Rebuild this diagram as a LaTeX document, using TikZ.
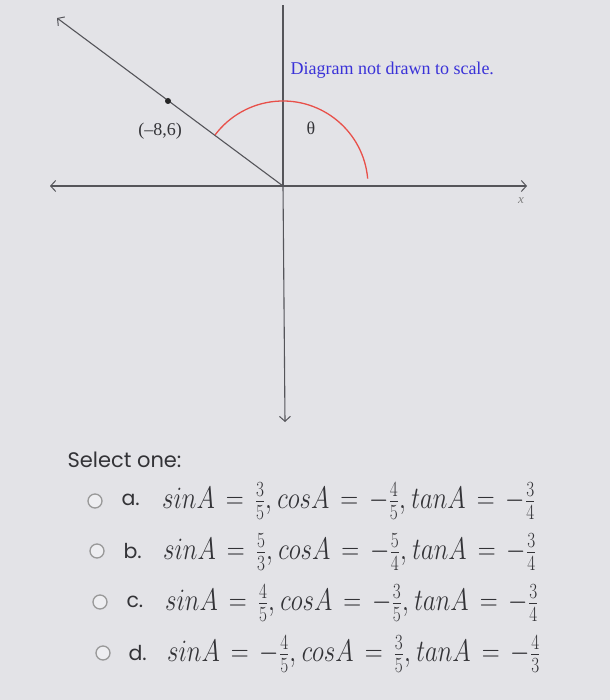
\documentclass[tikz,border=0pt]{standalone}
\usepackage{fontspec}
\setsansfont{Poppins}
\newfontfamily\labelserif{Liberation Serif}
\usetikzlibrary{arrows.meta}
\definecolor{bg}{HTML}{E3E3E7}
\definecolor{axisgray}{HTML}{55555A}
\definecolor{arcred}{HTML}{E8504A}
\definecolor{noteblue}{HTML}{3A32D8}
\definecolor{txt}{HTML}{333337}
\newcommand{\optformula}[1]{\scalebox{1}[1.25]{$\thickmuskip=8mu\thinmuskip=4mu #1$}}
\begin{document}
\begin{tikzpicture}[x=1pt,y=-1pt,
  axis/.style={draw=axisgray,line width=1.1pt},
  barb/.style={-{Straight Barb[length=5pt,width=11pt,line width=1pt]}},
  radio/.style={circle,draw=gray!80,line width=1.3pt,minimum size=14pt,inner sep=0pt,fill=white!40!bg},
  optletter/.style={anchor=west,font=\sffamily\fontsize{20.5}{24}\selectfont,text=txt},
  optmath/.style={anchor=west,font=\fontsize{25.5}{30}\selectfont,text=txt,inner sep=0pt}]
\useasboundingbox[fill=bg] (0,0) rectangle (610,700);
% axes
\coordinate (O) at (283,186);
\coordinate (L) at (50,186);
\coordinate (R) at (527,186);
\coordinate (T) at (283,5);
\coordinate (B) at (285,422);
\coordinate (P) at (57,18);
\draw[axis,barb] (O) -- (L);
\draw[axis,barb] (O) -- (R);
\draw[axis] (O) -- (T);
\draw[axis,barb] (O) -- (B);
\draw[axis,barb] (O) -- (P);
% point
\node[circle,fill=black!85,inner sep=0pt,minimum size=6pt] (pt) at (168,101) {};
\node[font=\labelserif\fontsize{18}{20}\selectfont,text=txt] (ptlabel) at (160,131) {(–8,6)};
% arc
\draw[arcred,line width=1.3pt] (O) ++(-5:85) arc[start angle=-5,end angle=-143,radius=85];
\node[font=\labelserif\fontsize{18}{20}\selectfont,text=txt] (theta) at (311,128) {θ};
\node[font=\labelserif\fontsize{18}{21}\selectfont,text=noteblue,anchor=west] (note) at (287,70) {Diagram not drawn to scale.};
\node[font=\labelserif\itshape\fontsize{13}{15}\selectfont,text=gray] (xlab) at (521,201) {x};
% question
\node[anchor=base west,font=\sffamily\fontsize{21}{24}\selectfont,text=txt] (sel) at (64,467) {Select one:};
\node[radio] (ra) at (95,501) {};
\node[optletter] (la) at (118,500) {a.};
\node[optmath] (ma) at (162,501) {\optformula{sin A = \frac{3}{5}, cos A = -\frac{4}{5}, tan A = -\frac{3}{4}}};
\node[radio] (rb) at (97,551) {};
\node[optletter] (lb) at (120,551) {b.};
\node[optmath] (mb) at (163,552) {\optformula{sin A = \frac{5}{3}, cos A = -\frac{5}{4}, tan A = -\frac{3}{4}}};
\node[radio] (rc) at (100,602) {};
\node[optletter] (lc) at (123,602) {c.};
\node[optmath] (mc) at (165,603) {\optformula{sin A = \frac{4}{5}, cos A = -\frac{3}{5}, tan A = -\frac{3}{4}}};
\node[radio] (rd) at (103,653) {};
\node[optletter] (ld) at (125,653) {d.};
\node[optmath] (md) at (167,654) {\optformula{sin A = -\frac{4}{5}, cos A = \frac{3}{5}, tan A = -\frac{4}{3}}};
\end{tikzpicture}
\end{document}
